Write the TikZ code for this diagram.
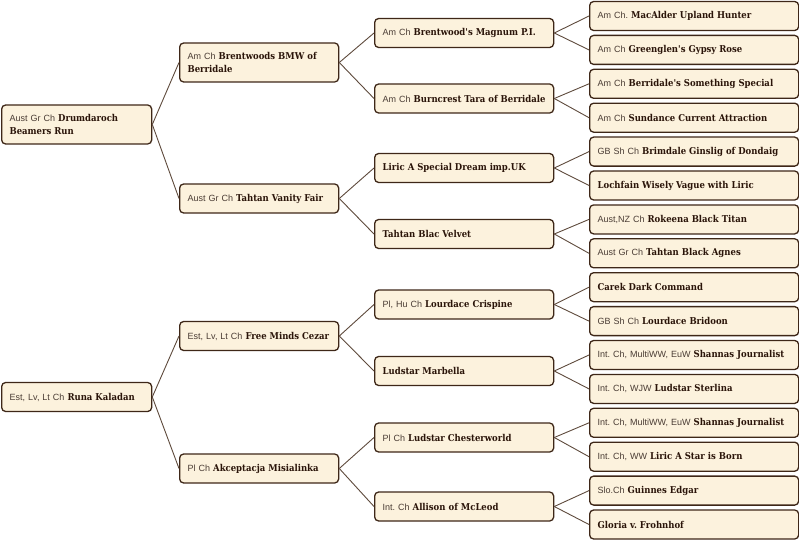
\documentclass[tikz,border=0pt]{standalone}
\usepackage{fontspec}
\setmainfont{Liberation Sans}
\newfontfamily\slab[Scale=1.05]{DejaVu Serif Condensed}
\definecolor{boxfill}{HTML}{FCF2DD}
\definecolor{boxdraw}{HTML}{3E2718}
\definecolor{linkcol}{HTML}{5E4A3C}
\definecolor{plaintext}{HTML}{4A3C34}
\definecolor{nametext}{HTML}{2A1409}
\newcommand{\nm}[1]{{\slab\bfseries\color{nametext}#1}}
\newcommand{\one}[1]{\mbox{#1}}
\tikzset{
  pbox/.style={draw=boxdraw, fill=boxfill, rounded corners=4pt, line width=1.3pt,
    anchor=west, minimum height=29pt, inner xsep=8pt, inner ysep=0pt,
    align=left, text=plaintext, font=\fontsize{9}{12.7}\selectfont\frenchspacing},
  c1/.style={pbox, text width=134pt},
  c2/.style={pbox, text width=143pt},
  c3/.style={pbox, text width=163pt},
  c4/.style={pbox, text width=193pt},
  tall/.style={minimum height=39pt},
  link/.style={draw=linkcol, line width=0.9pt}
}
\begin{document}
\begin{tikzpicture}[x=1pt,y=-1pt]
\useasboundingbox (0,0) rectangle (799,540);
% column 1
\node[c1,tall] (a1) at (1,124.5) {Aust Gr Ch \nm{Drumdaroch}\\\nm{Beamers Run}};
\node[c1] (a2) at (1,397) {\one{Est, Lv, Lt Ch \nm{Runa Kaladan}}};
% column 2
\node[c2,tall] (b1) at (179,62.5) {Am Ch \nm{Brentwoods BMW of}\\\nm{Berridale}};
\node[c2] (b2) at (179,198.5) {\one{Aust Gr Ch \nm{Tahtan Vanity Fair}}};
\node[c2] (b3) at (179,336) {\one{Est, Lv, Lt Ch \nm{Free Minds Cezar}}};
\node[c2] (b4) at (179,468.5) {\one{Pl Ch \nm{Akceptacja Misialinka}}};
% column 3
\node[c3] (d1) at (374,33) {\one{Am Ch \nm{Brentwood's Magnum P.I.}}};
\node[c3] (d2) at (374,98.5) {\one{Am Ch \nm{Burncrest Tara of Berridale}}};
\node[c3] (d3) at (374,168) {\one{\nm{Liric A Special Dream imp.UK}}};
\node[c3] (d4) at (374,234) {\one{\nm{Tahtan Blac Velvet}}};
\node[c3] (d5) at (374,304.5) {\one{Pl, Hu Ch \nm{Lourdace Crispine}}};
\node[c3] (d6) at (374,371) {\one{\nm{Ludstar Marbella}}};
\node[c3] (d7) at (374,437.5) {\one{Pl Ch \nm{Ludstar Chesterworld}}};
\node[c3] (d8) at (374,506.5) {\one{Int. Ch \nm{Allison of McLeod}}};
% column 4
\node[c4] (e0) at (589,16.0) {\one{Am Ch. \nm{MacAlder Upland Hunter}}};
\node[c4] (e1) at (589,49.9) {\one{Am Ch \nm{Greenglen's Gypsy Rose}}};
\node[c4] (e2) at (589,83.8) {\one{Am Ch \nm{Berridale's Something Special}}};
\node[c4] (e3) at (589,117.7) {\one{Am Ch \nm{Sundance Current Attraction}}};
\node[c4] (e4) at (589,151.6) {\one{GB Sh Ch \nm{Brimdale Ginslig of Dondaig}}};
\node[c4] (e5) at (589,185.5) {\one{\nm{Lochfain Wisely Vague with Liric}}};
\node[c4] (e6) at (589,219.4) {\one{Aust,NZ Ch \nm{Rokeena Black Titan}}};
\node[c4] (e7) at (589,253.3) {\one{Aust Gr Ch \nm{Tahtan Black Agnes}}};
\node[c4] (e8) at (589,287.2) {\one{\nm{Carek Dark Command}}};
\node[c4] (e9) at (589,321.1) {\one{GB Sh Ch \nm{Lourdace Bridoon}}};
\node[c4] (e10) at (589,355.0) {\one{Int. Ch, MultiWW, EuW \nm{Shannas Journalist}}};
\node[c4] (e11) at (589,388.9) {\one{Int. Ch, WJW \nm{Ludstar Sterlina}}};
\node[c4] (e12) at (589,422.8) {\one{Int. Ch, MultiWW, EuW \nm{Shannas Journalist}}};
\node[c4] (e13) at (589,456.7) {\one{Int. Ch, WW \nm{Liric A Star is Born}}};
\node[c4] (e14) at (589,490.6) {\one{Slo.Ch \nm{Guinnes Edgar}}};
\node[c4] (e15) at (589,524.5) {\one{\nm{Gloria v. Frohnhof}}};
% connectors
\draw[link] (a1.east) -- (b1.west);
\draw[link] (a1.east) -- (b2.west);
\draw[link] (a2.east) -- (b3.west);
\draw[link] (a2.east) -- (b4.west);
\draw[link] (b1.east) -- (d1.west);
\draw[link] (b1.east) -- (d2.west);
\draw[link] (b2.east) -- (d3.west);
\draw[link] (b2.east) -- (d4.west);
\draw[link] (b3.east) -- (d5.west);
\draw[link] (b3.east) -- (d6.west);
\draw[link] (b4.east) -- (d7.west);
\draw[link] (b4.east) -- (d8.west);
\draw[link] (d1.east) -- (e0.west);
\draw[link] (d1.east) -- (e1.west);
\draw[link] (d2.east) -- (e2.west);
\draw[link] (d2.east) -- (e3.west);
\draw[link] (d3.east) -- (e4.west);
\draw[link] (d3.east) -- (e5.west);
\draw[link] (d4.east) -- (e6.west);
\draw[link] (d4.east) -- (e7.west);
\draw[link] (d5.east) -- (e8.west);
\draw[link] (d5.east) -- (e9.west);
\draw[link] (d6.east) -- (e10.west);
\draw[link] (d6.east) -- (e11.west);
\draw[link] (d7.east) -- (e12.west);
\draw[link] (d7.east) -- (e13.west);
\draw[link] (d8.east) -- (e14.west);
\draw[link] (d8.east) -- (e15.west);
\end{tikzpicture}
\end{document}
